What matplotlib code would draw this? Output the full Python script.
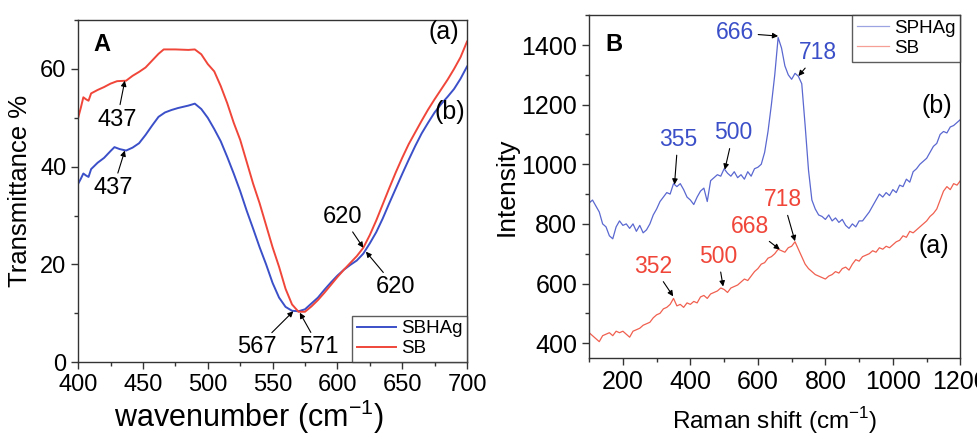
import matplotlib
matplotlib.use('Agg')
import matplotlib.pyplot as plt
from matplotlib.ticker import MultipleLocator

plt.rcParams['font.family'] = ['Liberation Sans', 'DejaVu Sans']
plt.rcParams['mathtext.fontset'] = 'custom'
plt.rcParams['mathtext.rm'] = 'Liberation Sans'



# ---- panel A: FTIR (transmittance %) ----
ftir_sb_x = [400, 402, 404, 406, 408, 410, 415, 420, 425, 430, 437, 442, 447, 452, 457,
             462, 466, 475, 485, 490, 495, 500, 505, 510, 515, 520, 525, 530, 535, 540,
             545, 550, 555, 560, 565, 570, 575, 580, 585, 590, 595, 600, 605, 610, 615,
             620, 625, 630, 635, 640, 645, 650, 655, 660, 665, 670, 675, 680, 685, 690,
             695, 700]
ftir_sb_y = [50.0, 52.0, 54.2, 53.8, 53.5, 55.0, 55.7, 56.3, 57.0, 57.5, 57.6, 58.6, 59.4, 60.3, 61.7,
             63.1, 64.0, 64.0, 63.9, 64.0, 63.0, 61.0, 59.5, 56.5, 53.0, 49.0, 45.5, 41.0, 36.5, 32.5,
             28.0, 23.5, 19.5, 15.0, 11.8, 10.3, 10.3, 11.4, 12.7, 14.2, 15.8, 17.4, 18.9, 20.3, 21.7,
             23.4, 26.0, 29.0, 32.3, 35.6, 38.8, 41.8, 44.6, 47.0, 49.4, 51.7, 53.8, 55.8, 57.8, 60.0,
             62.4, 65.6]

ftir_ag_x = [400, 402, 404, 406, 408, 410, 415, 420, 425, 428, 432, 437, 442, 447, 452,
             457, 462, 467, 472, 477, 485, 490, 495, 500, 505, 510, 515, 520, 525, 530,
             535, 540, 545, 550, 555, 560, 565, 570, 575, 580, 585, 590, 595, 600, 605,
             610, 615, 620, 625, 630, 635, 640, 645, 650, 655, 660, 665, 670, 675, 680,
             685, 690, 695, 700]
ftir_ag_y = [36.5, 37.5, 38.6, 38.2, 37.9, 39.5, 40.8, 41.8, 43.2, 44.0, 43.6, 43.3, 43.9, 44.8, 46.5,
             48.4, 50.2, 51.1, 51.6, 52.0, 52.5, 52.9, 51.8, 50.0, 47.7, 45.2, 42.0, 38.6, 35.0, 31.0,
             27.3, 23.5, 20.0, 16.2, 13.2, 11.3, 10.5, 10.4, 10.8, 12.0, 13.2, 14.8, 16.3, 17.7, 18.9,
             19.9, 20.8, 22.2, 24.3, 26.6, 29.4, 32.5, 35.5, 38.5, 41.4, 44.2, 46.8, 49.0, 51.1, 52.8,
             54.3, 55.9, 58.0, 60.5]

# ---- panel B: Raman intensity ----
raman_x = list(range(100, 1201, 10))
raman_ag = [870, 880, 860, 840, 800, 790, 760, 750, 790, 810,
            795, 800, 785, 800, 775, 795, 770, 780, 800, 830,
            850, 875, 890, 905, 900, 935, 925, 935, 915, 890,
            880, 865, 890, 910, 920, 875, 945, 955, 965, 960,
            985, 970, 960, 975, 955, 965, 950, 975, 960, 985,
            990, 1000, 1040, 1110, 1200, 1300, 1425, 1390, 1330, 1300,
            1285, 1305, 1295, 1270, 1130, 980, 880, 850, 830, 825,
            815, 830, 810, 820, 805, 815, 795, 785, 800, 790,
            810, 810, 825, 840, 860, 880, 900, 890, 905, 895,
            915, 905, 930, 925, 950, 940, 975, 985, 1000, 1010,
            1020, 1040, 1060, 1070, 1100, 1110, 1105, 1125, 1130, 1140,
            1150]
raman_sb = [435, 425, 415, 405, 425, 430, 435, 425, 440, 435,
            440, 430, 420, 440, 445, 450, 460, 465, 470, 485,
            495, 500, 515, 520, 530, 550, 525, 530, 520, 535,
            530, 540, 535, 555, 560, 550, 565, 570, 575, 585,
            580, 570, 585, 590, 595, 605, 615, 610, 625, 640,
            650, 665, 670, 685, 690, 700, 715, 710, 705, 720,
            725, 740, 715, 690, 665, 650, 640, 630, 625, 620,
            615, 625, 630, 640, 635, 650, 655, 645, 665, 680,
            675, 690, 695, 700, 710, 705, 720, 715, 725, 720,
            730, 740, 745, 760, 755, 775, 770, 780, 790, 800,
            810, 825, 835, 850, 880, 910, 925, 915, 935, 930,
            945]

BLUE = '#3b4fc8'
RED = '#f0463a'
BLUE_B = '#5a68d0'
RED_B = '#f06050'

fig = plt.figure(figsize=(9.77, 4.47), dpi=100)


def style_axes(ax, tick_size):
    for s in ax.spines.values():
        s.set_color('#333333')
        s.set_linewidth(1.0)
    ax.tick_params(which='both', direction='out', top=False, right=False,
                   color='#333333', labelsize=tick_size, width=1.0)
    ax.tick_params(which='major', length=5)
    ax.tick_params(which='minor', length=3)


arrow = dict(arrowstyle='-|>', color='black', lw=0.8, mutation_scale=8, shrinkA=1, shrinkB=0)

# panel A
axA = fig.add_axes([0.080, 0.190, 0.398, 0.765])
axA.plot(ftir_ag_x, ftir_ag_y, color=BLUE, lw=1.4, label='SBHAg')
axA.plot(ftir_sb_x, ftir_sb_y, color=RED, lw=1.4, label='SB')
axA.set_xlim(400, 700)
axA.set_ylim(0, 70)
axA.xaxis.set_major_locator(MultipleLocator(50))
axA.xaxis.set_minor_locator(MultipleLocator(25))
axA.yaxis.set_major_locator(MultipleLocator(20))
axA.yaxis.set_minor_locator(MultipleLocator(10))
style_axes(axA, 17)
axA.set_xlabel('wavenumber (cm$^{-1}$)', fontsize=22)
axA.xaxis.set_label_coords(0.44, -0.105)
axA.set_ylabel('Transmittance %', fontsize=18.5, labelpad=6)
axA.text(0.04, 0.93, 'A', transform=axA.transAxes, fontsize=17, fontweight='bold', va='center')
axA.text(682, 67.5, '(a)', fontsize=18, ha='center', va='center')
axA.text(687, 51.2, '(b)', fontsize=18, ha='center', va='center')

ann_a = [
    ('437', (436, 57.6), (430, 49.6)),
    ('437', (436, 43.3), (427, 35.6)),
    ('567', (566, 10.4), (538, 3.0)),
    ('571', (571, 10.1), (586, 3.0)),
    ('620', (620, 23.4), (604, 29.7)),
    ('620', (622, 22.6), (645, 15.3)),
]
for txt, xy, xyt in ann_a:
    axA.annotate(txt, xy=xy, xytext=xyt, fontsize=17, ha='center', va='center',
                 arrowprops=arrow)

legA = axA.legend(loc='lower right', fontsize=13.5, frameon=True, fancybox=False,
                  borderaxespad=0, handlelength=2.1, labelspacing=0.15,
                  borderpad=0.25, handletextpad=0.25)
legA.get_frame().set_edgecolor('#333333')
legA.get_frame().set_linewidth(1.0)

# panel B
axB = fig.add_axes([0.603, 0.199, 0.380, 0.767])
axB.plot(raman_x, raman_ag, color=BLUE_B, lw=0.9, label='SPHAg')
axB.plot(raman_x, raman_sb, color=RED_B, lw=0.9, label='SB')
axB.set_xlim(100, 1200)
axB.set_ylim(350, 1500)
axB.xaxis.set_major_locator(MultipleLocator(200))
axB.xaxis.set_minor_locator(MultipleLocator(100))
axB.yaxis.set_major_locator(MultipleLocator(200))
axB.yaxis.set_minor_locator(MultipleLocator(100))
style_axes(axB, 18)
axB.set_xlabel('Raman shift (cm$^{-1}$)', fontsize=17.5, labelpad=8)
axB.set_ylabel('Intensity', fontsize=19, labelpad=2)
axB.text(0.045, 0.915, 'B', transform=axB.transAxes, fontsize=17, fontweight='bold', va='center')
axB.text(1131, 1195, '(b)', fontsize=18, ha='center', va='center')
axB.text(1121, 725, '(a)', fontsize=18, ha='center', va='center')

ann_b = [
    ('666', (660, 1430), (532, 1441), BLUE),
    ('718', (720, 1296), (779, 1374), BLUE),
    ('355', (353, 932), (363, 1083), BLUE),
    ('500', (502, 982), (527, 1105), BLUE),
    ('352', (349, 557), (289, 658), RED),
    ('500', (497, 590), (482, 691), RED),
    ('668', (665, 714), (576, 792), RED),
    ('718', (710, 742), (675, 881), RED),
]
for txt, xy, xyt, col in ann_b:
    axB.annotate(txt, xy=xy, xytext=xyt, fontsize=16.5, color=col, ha='center',
                 va='center', arrowprops=arrow)

legB = axB.legend(loc='upper right', fontsize=13.5, frameon=True, fancybox=False,
                  borderaxespad=0, handlelength=1.7, labelspacing=0.15,
                  borderpad=0.25, handletextpad=0.3)
legB.get_frame().set_edgecolor('#333333')
legB.get_frame().set_linewidth(1.0)
for ln in legB.get_lines():
    ln.set_alpha(0.6)

fig.savefig('out.png', dpi=100)
